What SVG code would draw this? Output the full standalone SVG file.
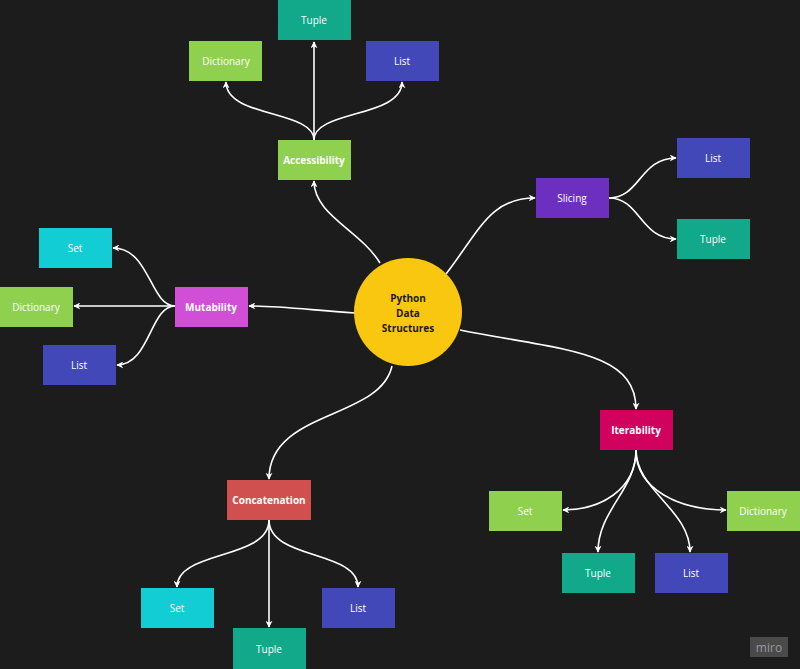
<svg xmlns="http://www.w3.org/2000/svg" width="800" height="669" viewBox="0 0 800 669">
<style>
text{font-family:"Open Sans","Noto Sans",sans-serif;font-size:10px;fill:#fff;text-anchor:middle;dominant-baseline:central}
.b{font-weight:bold}
.c path{fill:none;stroke:#fff;stroke-width:1.6;marker-end:url(#a)}
.g{fill:#8fd14f}.t{fill:#12a88a}.bl{fill:#4348b8}.cy{fill:#12cdd4}
</style>
<defs><marker id="a" viewBox="0 0 10 10" refX="9" refY="5" markerWidth="7" markerHeight="7" orient="auto" markerUnits="userSpaceOnUse"><path d="M0,0L10,5L0,10L3,5z" fill="#fff"/></marker></defs>
<rect width="800" height="669" fill="#1c1c1c"/>
<g class="c">
<path d="M380,263C360,230 314,215 314,181"/>
<path d="M314,140L314,42"/>
<path d="M314,140C314,110 226,118 226,82"/>
<path d="M314,140C314,110 402,118 402,82"/>
<path d="M446,274C480,230 490,198 535,198"/>
<path d="M609,198C640,198 640,158 676,158"/>
<path d="M609,198C640,198 640,239 676,239"/>
<path d="M355,313C310,310 280,306 249,306"/>
<path d="M175,306C150,306 150,248 113,248"/>
<path d="M175,306L74,306"/>
<path d="M175,306C150,306 150,365 117,365"/>
<path d="M460,330C560,350 636,350 636,409"/>
<path d="M636,450C636,490 600,510 563,510"/>
<path d="M636,450C636,490 598,510 598,552"/>
<path d="M636,450C636,490 690,510 690,552"/>
<path d="M636,450C636,490 680,510 726,510"/>
<path d="M392,366C380,420 269,410 269,479"/>
<path d="M269,520C269,560 177,550 177,587"/>
<path d="M269,520L269,627"/>
<path d="M269,520C269,560 358,550 358,587"/>
</g>
<g id="center"><circle cx="408" cy="312" r="54" fill="#fac710"/><text x="408" y="298" class="b" style="fill:#1a1a1a">Python</text><text x="408" y="313" class="b" style="fill:#1a1a1a">Data</text><text x="408" y="328" class="b" style="fill:#1a1a1a">Structures</text></g>
<g id="acc"><rect x="278" y="140" width="73" height="40" class="g"/><text x="314" y="160" class="b">Accessibility</text></g>
<g id="acc-tuple"><rect x="278" y="0" width="73" height="40" class="t"/><text x="314" y="20">Tuple</text></g>
<g id="acc-dict"><rect x="189" y="41" width="73" height="40" class="g"/><text x="226" y="61">Dictionary</text></g>
<g id="acc-list"><rect x="366" y="41" width="73" height="40" class="bl"/><text x="402" y="61">List</text></g>
<g id="slicing"><rect x="536" y="178" width="73" height="40" fill="#6d2fc0"/><text x="572" y="198">Slicing</text></g>
<g id="sl-list"><rect x="677" y="138" width="73" height="40" class="bl"/><text x="713" y="158">List</text></g>
<g id="sl-tuple"><rect x="677" y="219" width="73" height="40" class="t"/><text x="713" y="239">Tuple</text></g>
<g id="mut"><rect x="175" y="287" width="73" height="40" fill="#d04fd6"/><text x="211" y="307" class="b">Mutability</text></g>
<g id="mut-set"><rect x="39" y="228" width="73" height="40" class="cy"/><text x="75" y="248">Set</text></g>
<g id="mut-dict"><rect x="0" y="287" width="73" height="40" class="g"/><text x="36" y="307">Dictionary</text></g>
<g id="mut-list"><rect x="43" y="345" width="73" height="40" class="bl"/><text x="79" y="365">List</text></g>
<g id="iter"><rect x="600" y="410" width="73" height="40" fill="#d1015e"/><text x="636" y="430" class="b">Iterability</text></g>
<g id="it-set"><rect x="489" y="491" width="73" height="40" class="g"/><text x="525" y="511">Set</text></g>
<g id="it-tuple"><rect x="562" y="553" width="73" height="40" class="t"/><text x="598" y="573">Tuple</text></g>
<g id="it-list"><rect x="655" y="553" width="73" height="40" class="bl"/><text x="691" y="573">List</text></g>
<g id="it-dict"><rect x="727" y="491" width="73" height="40" class="g"/><text x="763" y="511">Dictionary</text></g>
<g id="concat"><rect x="227" y="480" width="84" height="40" fill="#d05050"/><text x="269" y="500" class="b">Concatenation</text></g>
<g id="co-set"><rect x="141" y="588" width="73" height="40" class="cy"/><text x="177" y="608">Set</text></g>
<g id="co-tuple"><rect x="233" y="628" width="73" height="41" class="t"/><text x="269" y="649">Tuple</text></g>
<g id="co-list"><rect x="322" y="588" width="73" height="40" class="bl"/><text x="358" y="608">List</text></g>
<g id="miro"><rect x="750" y="637" width="38" height="20" fill="#4a4a4a"/><text x="769" y="647" style="fill:#999;font-size:12px">miro</text></g>
</svg>
